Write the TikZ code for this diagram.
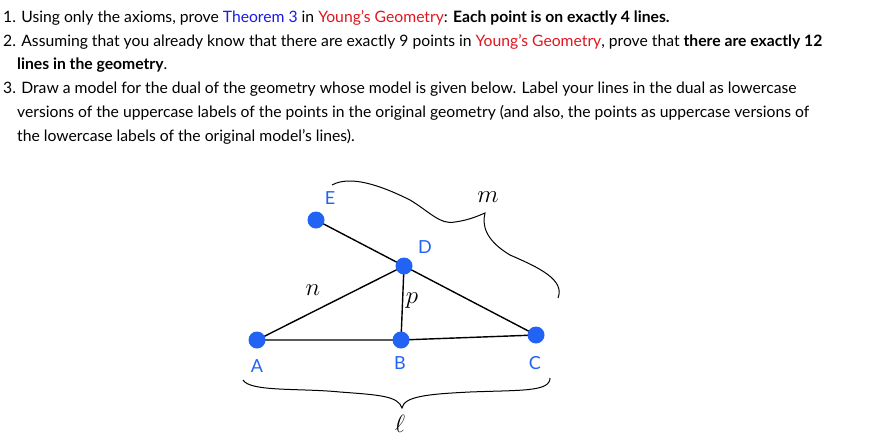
\documentclass[tikz,border=0pt]{standalone}
\usepackage{fontspec}
\setmainfont{Lato}
\begin{document}
\begin{tikzpicture}[x=1pt,y=-1pt,
  txt/.style={anchor=base west,inner sep=0pt,font=\fontsize{15.7}{18}\selectfont},
  dot/.style={circle,fill=ptblue,inner sep=0pt,minimum size=17pt},
  plab/.style={text=ptblue,font=\fontsize{18}{20}\selectfont},
  llab/.style={font=\fontsize{24}{26}\selectfont},
  seg/.style={line width=1.4pt},
  brace/.style={line width=1pt}]
\definecolor{ptblue}{HTML}{2262F5}
\definecolor{tblue}{HTML}{1A1AE6}
\definecolor{tred}{HTML}{E0161E}
\useasboundingbox (0,0) rectangle (872,447);
\node[txt] (t1) at (3,22) {1. Using only the axioms, prove \textcolor{tblue}{Theorem 3} in \textcolor{tred}{Young's Geometry}: \textbf{Each point is on exactly 4 lines.}};
\node[txt] (t2) at (3,46) {2. Assuming that you already know that there are exactly 9 points in \textcolor{tred}{Young's Geometry}, prove that \textbf{there are exactly 12}};
\node[txt] (t3) at (17,69) {\textbf{lines in the geometry}.};
\node[txt] (t4) at (3,93) {3. Draw a model for the dual of the geometry whose model is given below. Label your lines in the dual as lowercase};
\node[txt] (t5) at (17,117) {versions of the uppercase labels of the points in the original geometry (and also, the points as uppercase versions of};
\node[txt] (t6) at (17,141) {the lowercase labels of the original model's lines).};
\coordinate (A) at (257,340);
\coordinate (B) at (401,340);
\coordinate (C) at (536,335);
\coordinate (D) at (404,266);
\coordinate (E) at (316,220);
\draw[seg] (A) -- (B) -- (C);
\draw[seg] (A) -- (D);
\draw[seg] (E) -- (D) -- (C);
\draw[seg] (D) -- (B);
\foreach \p in {A,B,C,D,E} \node[dot] (d\p) at (\p) {};
\node[plab] (lA) at (257,366) {A};
\node[plab] (lB) at (400,363) {B};
\node[plab] (lC) at (535,363) {C};
\node[plab] (lD) at (425,247) {D};
\node[plab] (lE) at (330,198) {E};
\node[llab] (ln) at (313,290) {$n$};
\node[llab] (lp) at (412,301) {$p$};
\node[llab] (lm) at (488,197) {$m$};
\node[llab] (ll) at (400,424) {$\ell$};
\draw[brace] (243,380) .. controls (250,392) and (300,388) .. (340,392) .. controls (380,395) and (398,396) .. (402,408)
  .. controls (404,396) and (430,394) .. (470,392) .. controls (520,390) and (550,392) .. (550,378);
\draw[brace] (332,185) .. controls (350,175) and (380,185) .. (410,200) .. controls (430,212) and (440,225) .. (455,222)
  .. controls (470,220) and (480,215) .. (485,213) .. controls (482,225) and (485,240) .. (510,255)
  .. controls (540,268) and (565,280) .. (558,298);
\end{tikzpicture}
\end{document}
